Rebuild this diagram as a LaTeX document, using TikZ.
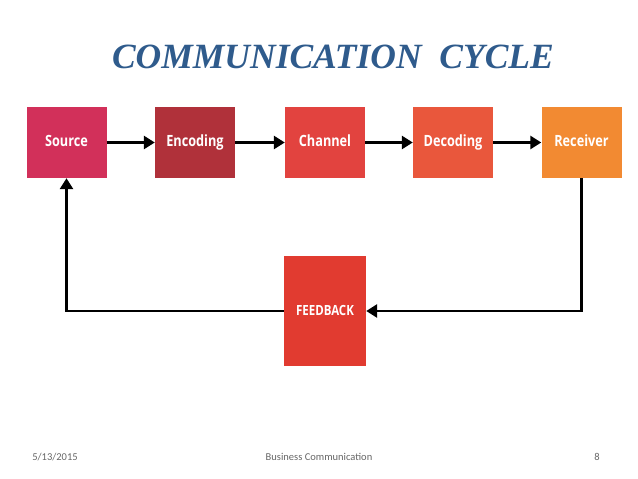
\documentclass[tikz,border=0pt]{standalone}
\usepackage{fontspec}
\setmainfont{Liberation Serif}
\newfontfamily\boxfont{Open Sans}
\newfontfamily\footfont{Carlito}
\usetikzlibrary{arrows.meta}
\definecolor{tblue}{HTML}{2F5B8C}
\definecolor{cSource}{HTML}{D2305A}
\definecolor{cEnc}{HTML}{B0313A}
\definecolor{cChan}{HTML}{E2433F}
\definecolor{cDec}{HTML}{E9573C}
\definecolor{cRec}{HTML}{F28A32}
\definecolor{cFb}{HTML}{E13B30}
\begin{document}
\begin{tikzpicture}[x=1pt,y=-1pt,
  blk/.style={draw=none,minimum width=80pt,minimum height=71pt,inner sep=0pt,text=white,text height=11pt,text depth=3pt,font=\boxfont\bfseries\fontsize{15.5}{17}\selectfont},
  arr/.style={line width=2.8pt,-{Triangle[length=11pt,width=13pt]}},
  foot/.style={text=gray!80!black,font=\footfont\fontsize{10.5}{12}\selectfont}]
\useasboundingbox (0,0) rectangle (638,479);
\node (title) at (333,57) {\fontsize{35.5}{40}\selectfont\bfseries\itshape\color{tblue}COMMUNICATION\ \ CYCLE};
\node[blk,fill=cSource] (src) at (66.5,142.5) {\scalebox{0.82}[1]{Source}};
\node[blk,fill=cEnc] (enc) at (195,142.5) {\scalebox{0.82}[1]{Encoding}};
\node[blk,fill=cChan] (chan) at (325,142.5) {\scalebox{0.82}[1]{Channel}};
\node[blk,fill=cDec] (dec) at (453,142.5) {\scalebox{0.82}[1]{Decoding}};
\node[blk,fill=cRec] (rec) at (581.5,142.5) {\scalebox{0.82}[1]{Receiver}};
\node[blk,fill=cFb,minimum width=82pt,minimum height=110pt] (fb) at (325,311) {\scalebox{0.82}[1]{\fontsize{14}{16}\selectfont FEEDBACK}};
\draw[arr] (src) -- (enc);
\draw[arr] (enc) -- (chan);
\draw[arr] (chan) -- (dec);
\draw[arr] (dec) -- (rec);
\draw[arr] (rec.south) -- (581.5,311) -- (fb.east);
\draw[arr] (fb.west) -- (66.5,311) -- (src.south);
\node[foot] (d) at (55,457) {5/13/2015};
\node[foot] (bc) at (319,457) {Business Communication};
\node[foot] (pg) at (597,457) {8};
\end{tikzpicture}
\end{document}
